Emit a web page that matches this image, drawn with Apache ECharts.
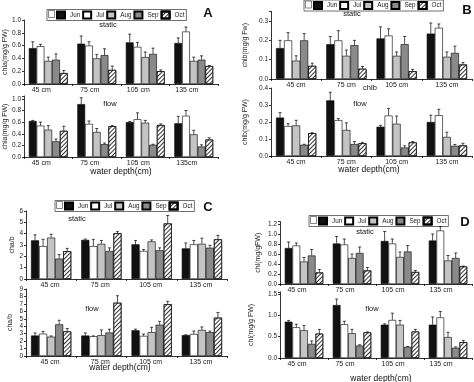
<!DOCTYPE html>
<html><head><meta charset="utf-8">
<script src="https://cdn.jsdelivr.net/npm/echarts@6/dist/echarts.min.js"></script>
<style>html,body{margin:0;padding:0;background:#fff}#c{width:474px;height:382px}</style>
</head><body><div id="c"></div>
<script>
const months = ['Jun', 'Jul', 'Aug', 'Sep', 'Oct'];
const depthLabels = ['45 cm', '75 cm', '105 cm', '135 cm'];
const depthLabelsAFlow = ['45 cm', '75 cm', '105 cm', '135cm'];

// rows = months (Jun..Oct), columns = depths (45,75,105,135)
const chlaStaticMean = [[0.56,0.63,0.65,0.64],[0.59,0.60,0.58,0.82],[0.36,0.40,0.42,0.36],[0.38,0.45,0.47,0.38],[0.17,0.22,0.20,0.28]];
const chlaStaticSd   = [[0.10,0.12,0.13,0.08],[0.03,0.06,0.07,0.07],[0.06,0.06,0.08,0.06],[0.09,0.10,0.09,0.06],[0.04,0.06,0.02,0.01]];
const chlaFlowMean   = [[0.62,0.91,0.60,0.58],[0.54,0.57,0.65,0.71],[0.47,0.43,0.59,0.39],[0.27,0.22,0.21,0.18],[0.45,0.53,0.55,0.30]];
const chlaFlowSd     = [[0.01,0.11,0.01,0.12],[0.06,0.05,0.11,0.09],[0.07,0.06,0.04,0.07],[0.04,0.02,0.01,0.03],[0.08,0.01,0.02,0.03]];

const chlbStaticMean = [[0.16,0.18,0.21,0.235],[0.20,0.20,0.225,0.265],[0.095,0.12,0.12,0.115],[0.20,0.175,0.18,0.135],[0.068,0.053,0.04,0.075]];
const chlbStaticSd   = [[0.04,0.04,0.06,0.055],[0.04,0.05,0.035,0.02],[0.025,0.03,0.02,0.025],[0.035,0.025,0.04,0.035],[0.014,0.012,0.01,0.01]];
const chlbFlowMean   = [[0.226,0.327,0.172,0.20],[0.176,0.211,0.238,0.24],[0.18,0.153,0.19,0.112],[0.066,0.07,0.05,0.06],[0.134,0.075,0.08,0.062]];
const chlbFlowSd     = [[0.029,0.048,0.008,0.04],[0.014,0.009,0.042,0.035],[0.03,0.042,0.045,0.028],[0.003,0.015,0.01,0.008],[0.003,0.005,0.005,0.013]];

const chabStaticMean = [[3.41,3.45,3.06,2.70],[2.9,2.9,2.47,3.06],[3.65,3.1,3.32,3.1],[1.8,2.47,2.53,2.76],[2.45,4.03,4.9,3.5]];
const chabStaticSd   = [[0.49,0.08,0.34,0.48],[0.6,0.6,0.13,0.34],[0.3,0.3,0.13,0.5],[0.35,0.28,0.22,0.21],[0.25,0.15,0.7,0.35]];
const chabFlowMean   = [[2.75,2.75,3.45,2.8],[3.0,2.65,2.7,2.95],[2.6,2.8,3.2,3.5],[4.25,3.15,4.2,3.2],[3.3,7.15,6.95,5.15]];
const chabFlowSd     = [[0.35,0.35,0.15,0.05],[0.3,0.05,0.25,0.4],[0.1,0.7,0.65,0.4],[0.55,0.45,0.45,0.15],[0.4,0.95,0.4,0.7]];

const chlStaticMean  = [[0.72,0.81,0.86,0.87],[0.77,0.79,0.81,1.07],[0.45,0.52,0.54,0.47],[0.57,0.62,0.65,0.52],[0.23,0.27,0.24,0.35]];
const chlStaticSd    = [[0.12,0.14,0.19,0.13],[0.05,0.11,0.09,0.08],[0.08,0.08,0.10,0.10],[0.12,0.12,0.12,0.10],[0.06,0.06,0.03,0.01]];
const chlFlowMean    = [[0.85,1.24,0.78,0.78],[0.72,0.79,0.89,0.95],[0.65,0.58,0.78,0.49],[0.33,0.29,0.26,0.24],[0.57,0.60,0.62,0.37]];
const chlFlowSd      = [[0.03,0.14,0.02,0.18],[0.07,0.07,0.16,0.14],[0.11,0.09,0.10,0.11],[0.07,0.02,0.01,0.02],[0.10,0.01,0.05,0.04]];

const FONT = 'Liberation Sans';
const fills = ['#111111', '#ffffff', '#c4c4c4', '#8a8a8a', '#ffffff'];

const layout = [
  {mean: chlaStaticMean, sd: chlaStaticSd, left: 24, top: 20, width: 194, height: 64, max: 1.0, interval: 0.2, digits: 1, yName: 'chla(mg/g FW)', nameGap: 14, labels: depthLabels, shift: 14},
  {mean: chlaFlowMean, sd: chlaFlowSd, left: 24, top: 96, width: 194, height: 61, max: 1.05, interval: 0.2, digits: 1, yName: 'chla(mg/g FW)', nameGap: 14, labels: depthLabelsAFlow, shift: 14},
  {mean: chlbStaticMean, sd: chlbStaticSd, left: 271, top: 11.4, width: 201, height: 67.6, max: 0.35, interval: 0.1, digits: 1, yName: 'chlb(mg/g Fw)', nameGap: 22, labels: depthLabels, shift: 0},
  {mean: chlbFlowMean, sd: chlbFlowSd, left: 271, top: 88, width: 201, height: 68, max: 0.4, interval: 0.1, digits: 1, yName: 'chlb(mg/g FW)', nameGap: 22, labels: depthLabels, shift: 0},
  {mean: chabStaticMean, sd: chabStaticSd, left: 26, top: 211, width: 201, height: 68, max: 6, interval: 1, digits: 0, yName: 'cha/b', nameGap: 10, labels: depthLabels, shift: 2},
  {mean: chabFlowMean, sd: chabFlowSd, left: 26, top: 289, width: 201, height: 67, max: 9, interval: 1, digits: 0, yName: 'cha/b', nameGap: 12, labels: depthLabels, shift: 2},
  {mean: chlStaticMean, sd: chlStaticSd, left: 280, top: 221.5, width: 192, height: 62.5, max: 1.25, interval: 0.2, digits: 1, yName: 'chl(mg/gFW)', nameGap: 18, labels: depthLabels, shift: 14},
  {mean: chlFlowMean, sd: chlFlowSd, left: 280, top: 291.8, width: 192, height: 66.2, max: 1.55, interval: 0.5, digits: 1, yName: 'chl(mg/g FW)', nameGap: 25, labels: depthLabels, shift: 14}
];

const grid = [], xAxis = [], yAxis = [], series = [];
const hatch = {symbol: 'rect', symbolSize: 1, dashArrayX: [1, 0], dashArrayY: [1, 2], rotation: -Math.PI / 4, color: '#333'};

layout.forEach((g, gi) => {
  grid.push({left: g.left, top: g.top, width: g.width, height: g.height, containLabel: false});
  xAxis.push({
    type: 'category', gridIndex: gi, data: g.labels,
    axisLine: {lineStyle: {color: '#000', width: 0.8}},
    axisTick: {show: true, length: 2, lineStyle: {color: '#000', width: 0.8}},
    axisLabel: {fontSize: 7, fontFamily: FONT, color: '#222', margin: 3, padding: [0, g.shift, 0, 0]}
  });
  const iv = g.interval, dg = g.digits;
  yAxis.push({
    type: 'value', gridIndex: gi, min: 0, max: g.max, interval: iv,
    name: g.yName, nameLocation: 'middle', nameGap: g.nameGap, nameRotate: 90,
    nameTextStyle: {fontSize: 7, fontFamily: FONT, color: '#222'},
    splitLine: {show: false},
    axisLine: {show: true, lineStyle: {color: '#000', width: 0.8}},
    axisTick: {show: true, length: 2, lineStyle: {color: '#000', width: 0.8}},
    axisLabel: {fontSize: 6.5, fontFamily: FONT, color: '#222', margin: 3,
      formatter: v => Math.abs(v / iv - Math.round(v / iv)) < 1e-6 ? v.toFixed(dg) : ''}
  });
  months.forEach((m, mi) => {
    const style = {color: fills[mi], borderColor: '#000', borderWidth: 0.6};
    if (mi === 4) style.decal = hatch;
    series.push({
      type: 'bar', name: m, xAxisIndex: gi, yAxisIndex: gi,
      data: g.mean[mi], barGap: '0%', barCategoryGap: '20%',
      itemStyle: style, emphasis: {disabled: true}, silent: true
    });
  });
  const errData = [];
  months.forEach((m, mi) => {
    g.mean[mi].forEach((v, ci) => errData.push([ci, mi, v, v + g.sd[mi][ci]]));
  });
  series.push({
    type: 'custom', xAxisIndex: gi, yAxisIndex: gi, z: 5, silent: true,
    encode: {x: 0, y: [2, 3]}, data: errData,
    renderItem: (params, api) => {
      const ci = api.value(0), mi = api.value(1);
      const p = api.coord([ci, api.value(2)]);
      const t = api.coord([ci, api.value(3)]);
      const band = api.size([1, 0])[0];
      const bw = band * 0.8 / 5;
      const x = p[0] + (mi - 2) * bw;
      return {type: 'group', children: [
        {type: 'line', shape: {x1: x, y1: p[1], x2: x, y2: t[1]}, style: {stroke: '#000', lineWidth: 0.7}},
        {type: 'line', shape: {x1: x - 1.5, y1: t[1], x2: x + 1.5, y2: t[1]}, style: {stroke: '#000', lineWidth: 0.7}}
      ]};
    }
  });
});

const legendPos = [[47, 9.5], [304, 0], [55, 200.5], [309, 215.5]];
const legend = legendPos.map(p => ({
  left: p[0], top: p[1], orient: 'horizontal', data: months.map(m => ({name: m, icon: 'rect'})),
  itemWidth: 8, itemHeight: 7, itemGap: 2,
  padding: [1, 2, 1, 9], borderColor: '#333', borderWidth: 0.7,
  textStyle: {fontSize: 6.3, fontFamily: FONT, color: '#222'},
  selectedMode: false
}));

const ctext = (x, y, s, size, bold) => ({type: 'text', x: x, y: y, silent: true,
  style: {text: s, font: (bold ? 'bold ' : '') + size + 'px "' + FONT + '"', fill: '#111', align: 'center', verticalAlign: 'middle'}});

const graphic = [
  ctext(208, 13, 'A', 13, true), ctext(467, 10, 'B', 13, true), ctext(208, 207, 'C', 13, true), ctext(465, 222, 'D', 13, true),
  ctext(108, 25, 'static', 7.5), ctext(110, 104, 'flow', 7.5),
  ctext(352, 14, 'static', 7.5), ctext(360, 104, 'flow', 7.5), ctext(370, 88, 'chlb', 7.5),
  ctext(77, 219, 'static', 7.5), ctext(92, 309, 'flow', 7.5),
  ctext(365, 232, 'static', 7.5), ctext(372, 309, 'flow', 7.5),
  ctext(121, 172, 'water depth(cm)', 8.5), ctext(369, 170, 'water depth(cm)', 8.5),
  ctext(120, 368, 'water depth(cm)', 8.5), ctext(381, 379, 'water depth(cm)', 8.5)
];
legendPos.forEach(p => graphic.push({type: 'rect', silent: true, shape: {x: p[0] + 1.5, y: p[1] + 1, width: 6, height: 7}, style: {fill: '#fff', stroke: '#333', lineWidth: 0.6}}));

const chart = echarts.init(document.getElementById('c'), null, {renderer: 'canvas'});
chart.setOption({
  animation: false, backgroundColor: '#fff',
  grid, xAxis, yAxis, series, legend, graphic
});
</script></body></html>
